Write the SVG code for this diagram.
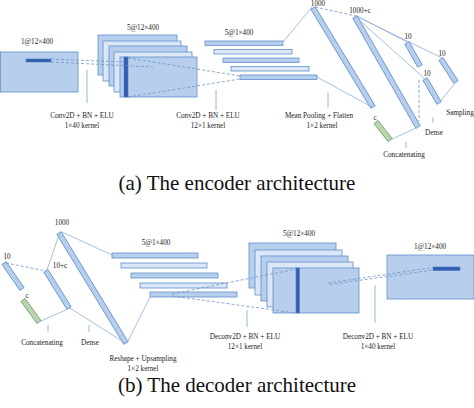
<svg xmlns="http://www.w3.org/2000/svg" width="474" height="408" viewBox="0 0 474 408">
<style>
.m{fill:#b7cfec;stroke:#5f8fcc;stroke-width:0.8}
.l{fill:#dbe7f6;stroke:#5f8fcc;stroke-width:0.8}
.dk{fill:#2f5fae;stroke:#4a78c0;stroke-width:0.6}
.g{fill:#b9d6ae;stroke:#6e9a66;stroke-width:0.8}
.ln{stroke:#8eaedb;stroke-width:0.8;fill:none}
.ds{stroke:#6f93c8;stroke-width:0.8;fill:none;stroke-dasharray:3 2}
.tk{stroke:#8eaedb;stroke-width:0.9}
text{font-family:"Liberation Serif","Times New Roman",serif;fill:#222;text-anchor:middle}
.s{font-size:7.2px}
.cap{font-size:21px;fill:#111}
</style>
<rect width="474" height="408" fill="#ffffff"/>

<!-- ===== ENCODER ===== -->
<g id="enc-input">
<rect class="m" x="0.5" y="52" width="77.5" height="40"/>
<rect class="dk" x="26" y="59" width="25" height="3"/>
<text class="s" x="37" y="44">1@12×400</text>
</g>
<g id="enc-conv1">
<rect class="m" x="98" y="35" width="79" height="40"/>
<rect class="l" x="103" y="41" width="78" height="40"/>
<rect class="m" x="109" y="46" width="78" height="40"/>
<rect class="l" x="114" y="52" width="78" height="40"/>
<rect class="m" x="120" y="57" width="77" height="40"/>
<rect class="dk" x="124" y="57" width="4" height="40"/>
<text class="s" x="143" y="30">5@12×400</text>
</g>
<g id="enc-conv2">
<rect class="m" x="205" y="41" width="78" height="4.5"/>
<rect class="l" x="214" y="49.5" width="78" height="4.5"/>
<rect class="m" x="223" y="58" width="76" height="4.5"/>
<rect class="l" x="231" y="66.5" width="78" height="4.5"/>
<rect class="m" x="240" y="75" width="77" height="4.5"/>
<text class="s" x="239" y="35">5@1×400</text>
</g>
<g id="enc-1000">
<rect class="m" x="0" y="-2.5" width="115.8" height="5" transform="translate(313 8) rotate(58.8)"/>
<text class="s" x="318" y="6">1000</text>
</g>
<g id="enc-1000c">
<rect class="m" x="0" y="-2.5" width="126.8" height="5" transform="translate(355 17) rotate(60.2)"/>
<text class="s" x="360" y="13">1000+c</text>
</g>
<g id="enc-c">
<rect class="g" x="0" y="-2.5" width="22.8" height="5" transform="translate(376 122) rotate(52)"/>
<text class="s" x="375" y="120">c</text>
</g>
<g id="enc-mu">
<rect class="m" x="0" y="-2.5" width="26.4" height="5" transform="translate(407 43) rotate(60.5)"/>
<text class="s" x="408" y="39">10</text>
</g>
<g id="enc-sigma">
<rect class="m" x="0" y="-2.5" width="27.5" height="5" transform="translate(441 59) rotate(56.9)"/>
<text class="s" x="442" y="56">10</text>
</g>
<g id="enc-z">
<rect class="m" x="0" y="-2.5" width="27.8" height="5" transform="translate(425 79) rotate(59.7)"/>
<text class="s" x="427" y="76">10</text>
</g>

<g id="enc-labels">
<text class="s" x="82" y="118">Conv2D + BN + ELU</text>
<text class="s" x="82" y="127.5">1×40 kernel</text>
<text class="s" x="208" y="118">Conv2D + BN + ELU</text>
<text class="s" x="208" y="127.5">12×1 kernel</text>
<text class="s" x="319" y="118">Mean Pooling + Flatten</text>
<text class="s" x="322" y="127.5">1×2 kernel</text>
<text class="s" x="404" y="157">Concatenating</text>
<text class="s" x="434" y="135">Dense</text>
<text class="s" x="460" y="115">Sampling</text>
</g>

<!-- ===== DECODER ===== -->
<g id="dec-z">
<rect class="m" x="0" y="-2.5" width="31.6" height="5" transform="translate(4 263) rotate(55.3)"/>
<text class="s" x="7" y="259">10</text>
</g>
<g id="dec-c">
<rect class="g" x="0" y="-2.5" width="27.2" height="5" transform="translate(23 300) rotate(54)"/>
<text class="s" x="27" y="298">c</text>
</g>
<g id="dec-zc">
<rect class="m" x="0" y="-2.5" width="43.6" height="5" transform="translate(46 271) rotate(58.1)"/>
<text class="s" x="60" y="268">10+c</text>
</g>
<g id="dec-1000">
<rect class="m" x="0" y="-2.5" width="128.8" height="5" transform="translate(59 233) rotate(58.7)"/>
<text class="s" x="62" y="225">1000</text>
</g>
<g id="dec-reshape">
<rect class="m" x="112" y="253" width="86" height="5"/>
<rect class="l" x="121" y="263" width="86" height="5"/>
<rect class="m" x="131" y="273" width="87" height="5"/>
<rect class="l" x="140" y="283" width="87" height="5"/>
<rect class="m" x="150" y="292" width="87" height="5"/>
<text class="s" x="156" y="245">5@1×400</text>
</g>
<g id="dec-deconv1">
<rect class="m" x="249" y="243" width="87" height="45"/>
<rect class="l" x="255" y="250" width="87" height="45"/>
<rect class="m" x="261" y="256" width="87" height="45"/>
<rect class="l" x="267" y="262" width="86" height="45"/>
<rect class="m" x="273" y="268" width="86" height="45"/>
<rect class="dk" x="296" y="268" width="3.5" height="45"/>
<text class="s" x="299" y="236">5@12×400</text>
</g>
<g id="dec-output">
<rect class="m" x="387" y="255" width="87" height="44"/>
<rect class="dk" x="433" y="267" width="27" height="3.5"/>
<text class="s" x="430" y="249">1@12×400</text>
</g>
<g id="dec-labels">
<text class="s" x="42" y="345">Concatenating</text>
<text class="s" x="90" y="345">Dense</text>
<text class="s" x="143" y="361">Reshape + Upsampling</text>
<text class="s" x="143" y="371">1×2 kernel</text>
<text class="s" x="245" y="339">Deconv2D + BN + ELU</text>
<text class="s" x="245" y="348.5">12×1 kernel</text>
<text class="s" x="378" y="339">Deconv2D + BN + ELU</text>
<text class="s" x="378" y="348.5">1×40 kernel</text>
</g>

<!-- ===== CONNECTORS ===== -->
<g id="connectors">
<line class="ds" x1="51" y1="59" x2="124" y2="62"/>
<line class="ds" x1="51" y1="62" x2="153" y2="67"/>
<line class="ds" x1="128" y1="58" x2="240" y2="76"/>
<line class="ds" x1="128" y1="97" x2="240" y2="79"/>
<line class="ln" x1="283" y1="42" x2="312" y2="7"/>
<line class="ln" x1="317" y1="77" x2="372" y2="107"/>
<line class="ds" x1="315" y1="7" x2="356" y2="16"/>
<line class="ln" x1="357" y1="16" x2="407" y2="42"/>
<line class="ln" x1="358" y1="17" x2="442" y2="58"/>
<line class="ln" x1="358" y1="19" x2="424" y2="78"/>
<line class="ln" x1="456" y1="82" x2="439" y2="103"/>
<line class="ds" x1="419" y1="80" x2="419" y2="121"/>
<line class="ln" x1="390" y1="140" x2="418" y2="127"/>
<line class="tk" x1="87" y1="70" x2="87" y2="103"/>
<line class="tk" x1="216" y1="90" x2="216" y2="110"/>
<line class="tk" x1="328" y1="93" x2="328" y2="107"/>
<line class="tk" x1="406" y1="142" x2="406" y2="148"/>
<line class="tk" x1="433" y1="117" x2="433" y2="123"/>

<line class="ds" x1="6" y1="263" x2="46" y2="271"/>
<line class="ln" x1="47" y1="270" x2="60" y2="232"/>
<line class="ln" x1="39" y1="322" x2="70" y2="308"/>
<line class="ln" x1="70" y1="308" x2="125" y2="343"/>
<line class="ln" x1="62" y1="232" x2="112" y2="255"/>
<line class="ln" x1="127" y1="343" x2="150" y2="297"/>
<line class="ds" x1="172" y1="294" x2="296" y2="269"/>
<line class="ds" x1="172" y1="296" x2="296" y2="313"/>
<line class="ds" x1="328" y1="283" x2="433" y2="267.5"/>
<line class="ds" x1="330" y1="284.5" x2="433" y2="270"/>
<line class="tk" x1="48" y1="325" x2="48" y2="332"/>
<line class="tk" x1="89" y1="325" x2="89" y2="332"/>
<line class="tk" x1="247" y1="310" x2="247" y2="327"/>
<line class="tk" x1="375" y1="285" x2="375" y2="323"/>
</g>

<g id="captions">
<text class="cap" x="237" y="190">(a) The encoder architecture</text>
<text class="cap" x="237" y="392">(b) The decoder architecture</text>
</g>
</svg>
